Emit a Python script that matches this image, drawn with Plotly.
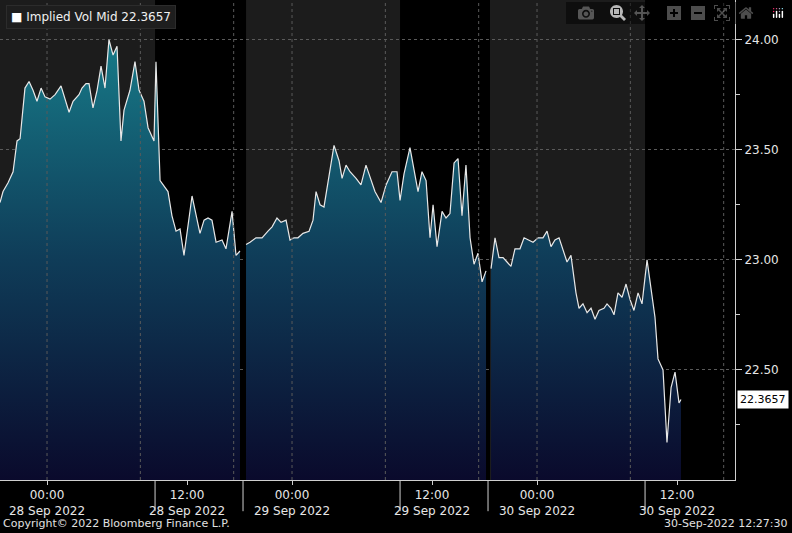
import plotly.graph_objects as go

# compressed trading-time axis (hours from 28 Sep 00:00, overnight gaps removed)
s1_hours = [-4.03, -3.77, -3.34, -2.91, -2.57, -2.31, -1.89, -1.54, -1.20, -0.86, -0.51, -0.17,
            0.26, 0.69, 1.20, 1.54, 1.89, 2.23, 2.74, 3.0, 3.34, 3.6, 3.94, 4.29, 4.63, 4.97,
            5.31, 5.66, 6.0, 6.34, 6.6, 7.11, 7.54, 7.89, 8.31, 8.66, 9.17, 9.34, 9.69, 10.37,
            10.71, 11.06, 11.4, 11.74, 12.43, 13.11, 13.46, 13.8, 14.14, 14.49, 15.0, 15.34,
            15.86, 16.2, 16.54]
s1_vol = [23.26, 23.31, 23.35, 23.40, 23.54, 23.55, 23.78, 23.81, 23.77, 23.72, 23.78, 23.74,
          23.73, 23.75, 23.79, 23.73, 23.67, 23.72, 23.75, 23.78, 23.80, 23.80, 23.69, 23.77,
          23.88, 23.78, 24.00, 23.93, 23.97, 23.54, 23.68, 23.77, 23.90, 23.77, 23.72, 23.60,
          23.54, 23.90, 23.36, 23.31, 23.20, 23.13, 23.14, 23.02, 23.29, 23.12, 23.18, 23.19,
          23.18, 23.08, 23.09, 23.05, 23.22, 23.02, 23.04]

s2_hours = [17.06, 17.4, 17.91, 18.43, 18.94, 19.29, 19.71, 20.06, 20.49, 20.83, 21.17, 21.51,
            21.94, 22.46, 22.8, 23.06, 23.4, 23.74, 24.17, 24.6, 25.03, 25.29, 25.63, 25.97,
            26.49, 26.91, 27.34, 27.77, 28.11, 28.63, 29.06, 29.57, 30.0, 30.26, 30.6, 31.11,
            31.8, 32.14, 32.49, 32.83, 33.09, 33.43, 33.86, 34.2, 34.54, 34.89, 35.23, 35.57,
            35.91, 36.26, 36.6, 36.94, 37.29, 37.63]
s2_vol = [23.07, 23.08, 23.10, 23.10, 23.13, 23.15, 23.19, 23.17, 23.18, 23.09, 23.10, 23.10,
          23.12, 23.13, 23.18, 23.31, 23.25, 23.24, 23.38, 23.52, 23.45, 23.37, 23.43, 23.40,
          23.37, 23.34, 23.43, 23.36, 23.31, 23.26, 23.34, 23.40, 23.40, 23.27, 23.39, 23.51,
          23.31, 23.40, 23.36, 23.10, 23.25, 23.06, 23.22, 23.19, 23.21, 23.44, 23.46, 23.20,
          23.43, 23.10, 22.98, 23.03, 22.90, 22.95]

s3_hours = [38.06, 38.4, 38.74, 39.09, 39.43, 39.77, 40.11, 40.54, 40.89, 41.23, 41.66, 42.09,
            42.51, 42.86, 43.2, 43.54, 43.89, 44.57, 44.91, 45.34, 45.6, 45.94, 46.29, 46.63,
            46.97, 47.31, 47.74, 48.0, 48.34, 48.6, 48.94, 49.29, 49.63, 49.97, 50.31, 50.66,
            51.0, 51.43, 51.86, 52.11, 52.37, 52.8, 53.14, 53.49, 53.83, 54.17, 54.34]
s3_vol = [22.96, 23.10, 23.01, 23.01, 22.99, 22.97, 23.05, 23.05, 23.10, 23.09, 23.08, 23.10,
          23.10, 23.13, 23.06, 23.09, 23.10, 22.99, 23.02, 22.85, 22.78, 22.80, 22.76, 22.78,
          22.73, 22.77, 22.78, 22.80, 22.78, 22.75, 22.85, 22.83, 22.89, 22.82, 22.77, 22.85,
          22.80, 23.00, 22.83, 22.74, 22.55, 22.50, 22.17, 22.42, 22.49, 22.35, 22.3657]

last_value = 22.3657
tick_pos = [0, 12, 21, 33, 42, 54]
tick_text = ["00:00<br>28 Sep 2022", "12:00<br>28 Sep 2022", "00:00<br>29 Sep 2022",
             "12:00<br>29 Sep 2022", "00:00<br>30 Sep 2022", "12:00<br>30 Sep 2022"]
grid_hours = [0, 8, 16, 21, 29, 37, 42, 50, 58]
shaded = [(-4.03, 9.26), (17.06, 30.26), (37.97, 51.26)]
separators = [9.26, 16.8, 30.26, 37.8, 51.26]

X_MIN, X_MAX = -4.03, 58.97
Y_MIN, Y_MAX = 22.0, 24.18
FONT = "DejaVu Sans"

fig = go.Figure()
for hrs, vals in [(s1_hours, s1_vol), (s2_hours, s2_vol), (s3_hours, s3_vol)]:
    fig.add_trace(go.Scatter(
        x=hrs, y=vals, mode="lines", fill="tozeroy",
        line=dict(color="#e8e8e8", width=1.2),
        fillgradient=dict(type="vertical", start=22.0, stop=24.0,
                          colorscale=[[0, "#0a0a2c"], [0.5, "#0f3c58"], [1, "#177a88"]]),
        showlegend=False, hoverinfo="skip"))

shapes = []
for a, b in shaded:
    shapes.append(dict(type="rect", xref="x", yref="paper", x0=a, x1=b, y0=0, y1=1,
                       fillcolor="#1c1c1c", line_width=0, layer="below"))
for g in grid_hours:
    shapes.append(dict(type="line", xref="x", yref="paper", x0=g, x1=g, y0=0, y1=1,
                       line=dict(color="#5a5a5a", width=1, dash="dot"), layer="above"))
for s in separators:
    shapes.append(dict(type="line", xref="x", yref="paper", x0=s, x1=s, y0=0, y1=-0.065,
                       line=dict(color="#cfcfcf", width=1)))

annotations = [
    dict(xref="paper", yref="paper", x=0.008, y=0.99, xanchor="left", yanchor="top",
         text="<span style='color:white'>■</span> Implied Vol Mid 22.3657", showarrow=False,
         font=dict(family=FONT, size=12, color="#f0f0f0"), bgcolor="#1e1e1e",
         bordercolor="#2c2c2c", borderwidth=1, borderpad=4),
    dict(xref="paper", yref="y", x=1.003, y=last_value, xanchor="left", yanchor="middle",
         text=f"{last_value:.4f}", showarrow=False, font=dict(family=FONT, size=11, color="black"),
         bgcolor="white", borderpad=2),
    dict(xref="paper", yref="paper", x=0.001, y=-0.09, xanchor="left", yanchor="middle",
         text="Copyright© 2022 Bloomberg Finance L.P.", showarrow=False,
         font=dict(family=FONT, size=11, color="#e0e0e0")),
    dict(xref="paper", yref="paper", x=1.075, y=-0.09, xanchor="right", yanchor="middle",
         text="30-Sep-2022 12:27:30", showarrow=False,
         font=dict(family=FONT, size=11, color="#e0e0e0")),
]

fig.update_layout(
    width=792, height=533,
    margin=dict(l=0, r=57, t=0, b=53, autoexpand=False),
    paper_bgcolor="black", plot_bgcolor="black",
    font=dict(family=FONT, size=12, color="#e6e6e6"),
    shapes=shapes, annotations=annotations,
    xaxis=dict(range=[X_MIN, X_MAX], tickvals=tick_pos, ticktext=tick_text,
               showgrid=False, zeroline=False, showline=True, linecolor="#cfcfcf",
               ticks="outside", ticklen=4, tickcolor="#cfcfcf", automargin=False),
    yaxis=dict(range=[Y_MIN, Y_MAX], side="right", tickvals=[22.5, 23.0, 23.5, 24.0],
               tickformat=".2f", showgrid=True, gridcolor="#5a5a5a", griddash="dot",
               zeroline=False, showline=True, linecolor="#cfcfcf", automargin=False,
               ticks="outside", ticklen=6, tickcolor="#cfcfcf",
               minor=dict(tickvals=[22.25, 22.75, 23.25, 23.75], ticks="outside",
                          ticklen=4, tickcolor="#cfcfcf")),
)

fig.write_html("out.html", post_script="document.body.style.margin='0';")
